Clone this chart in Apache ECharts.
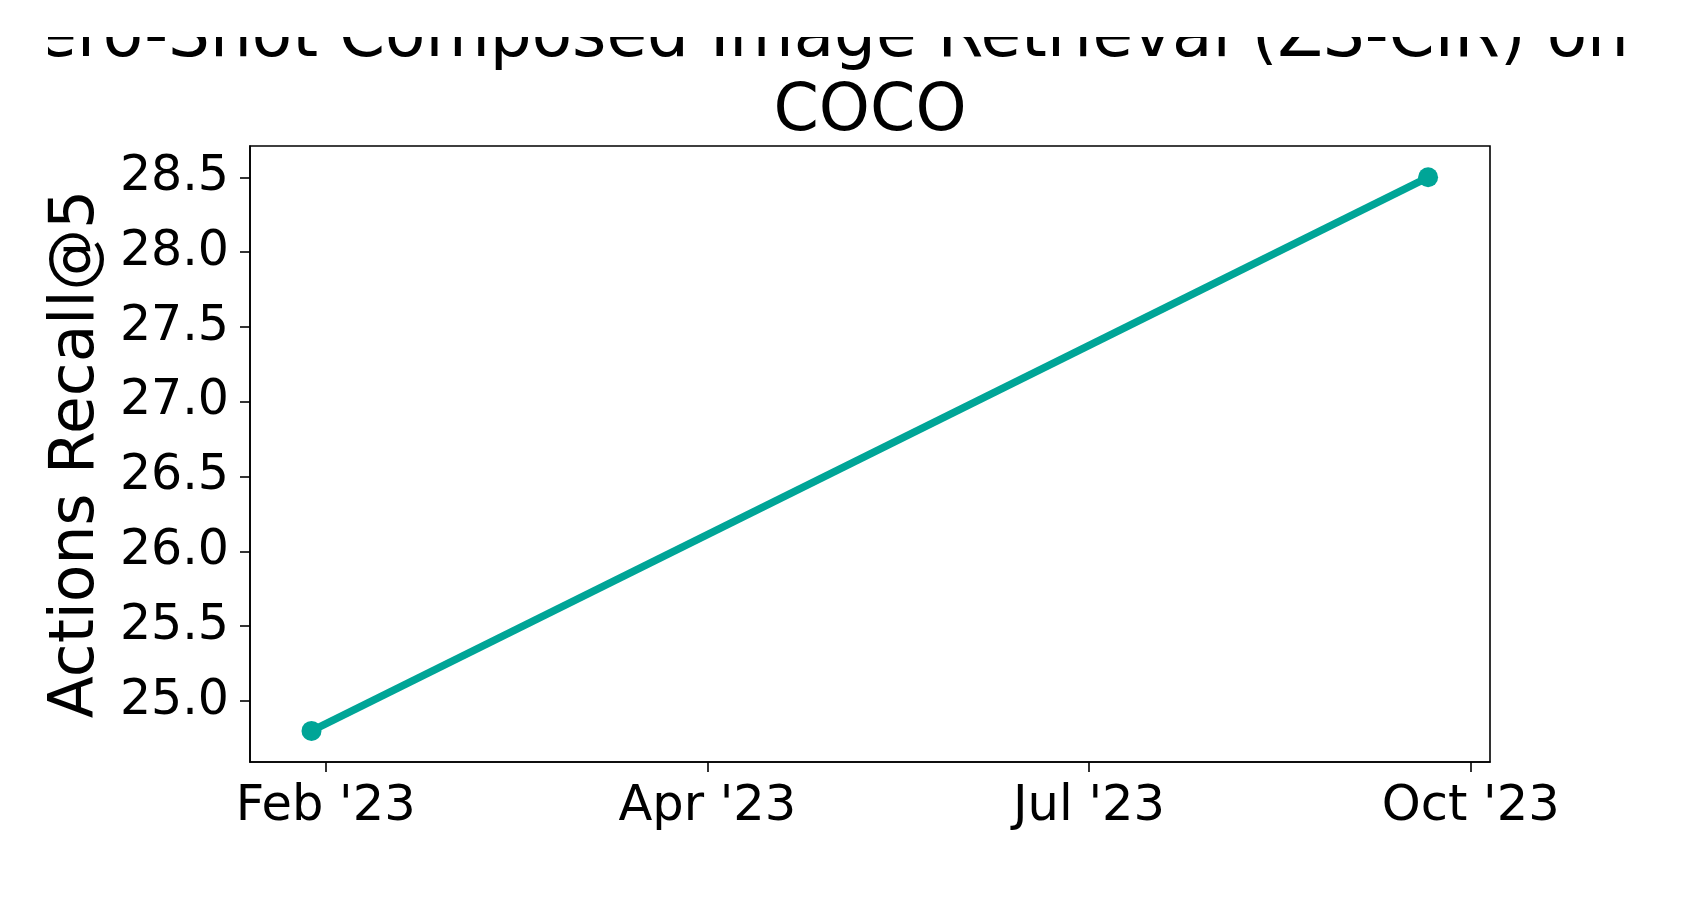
<!DOCTYPE html>
<html>
<head>
<meta charset="utf-8">
<script src="https://cdn.jsdelivr.net/npm/echarts@6/dist/echarts.min.js"></script>
<style>html,body{margin:0;padding:0;background:#fff;}#c{width:1700px;height:900px;}</style>
</head>
<body>
<div id="c"></div>
<script>
// ---- data ----
const titleLines = ['Zero-Shot Composed Image Retrieval (ZS-CIR) on', 'COCO'];
const yAxisName = 'Actions Recall@5';
const dates = ['2023-01-29', '2023-09-22'];
const values = [24.8, 28.5];
// tick positions (evenly spaced in the reference) and their labels
const xTickDates = ['2023-02-01T00:00', '2023-04-22T16:00', '2023-07-12T08:00', '2023-10-01T00:00'];
const xTickLabels = ["Feb '23", "Apr '23", "Jul '23", "Oct '23"];
const yTickValues = [25.0, 25.5, 26.0, 26.5, 27.0, 27.5, 28.0, 28.5];
const yTickLabels = ['25.0', '25.5', '26.0', '26.5', '27.0', '27.5', '28.0', '28.5'];

const FONT = 'DejaVu Sans';
const ts = d => +new Date((d.length === 10 ? d + 'T00:00' : d) + ':00Z');
const xTickTs = xTickDates.map(ts);
const seriesData = dates.map((d, i) => [ts(d), values[i]]);

const chart = echarts.init(document.getElementById('c'), null, {renderer: 'canvas'});
chart.setOption({
  animation: false,
  backgroundColor: '#ffffff',
  textStyle: {fontFamily: FONT},
  grid: {left: 250, right: 210, top: 146, bottom: 138, show: true, borderColor: '#000', borderWidth: 1.6, containLabel: false},
  xAxis: {
    type: 'value',
    min: ts('2023-01-16'),
    max: ts('2023-10-05T02:00'),
    splitLine: {show: false},
    axisLine: {show: true, lineStyle: {color: '#000', width: 1.6}},
    axisTick: {show: true, length: 10, lineStyle: {color: '#000', width: 1.6}, customValues: xTickTs},
    axisLabel: {
      customValues: xTickTs,
      color: '#000', fontSize: 49.5, fontFamily: FONT, margin: 20,
      formatter: function (v) { const i = xTickTs.findIndex(t => Math.abs(t - v) < 1000); return i >= 0 ? xTickLabels[i] : ''; }
    }
  },
  yAxis: {
    type: 'value',
    min: 24.592, max: 28.709,
    name: yAxisName,
    nameLocation: 'middle',
    nameRotate: 90,
    nameGap: 142,
    nameTextStyle: {fontSize: 61.5, color: '#000', fontFamily: FONT},
    splitLine: {show: false},
    axisLine: {show: true, lineStyle: {color: '#000', width: 1.6}},
    axisTick: {show: true, length: 10, lineStyle: {color: '#000', width: 1.6}, customValues: yTickValues},
    axisLabel: {
      customValues: yTickValues,
      color: '#000', fontSize: 49, fontFamily: FONT, margin: 21,
      formatter: function (v) { const i = yTickValues.findIndex(t => Math.abs(t - v) < 1e-6); return i >= 0 ? yTickLabels[i] : ''; }
    }
  },
  series: [{
    type: 'line',
    data: seriesData,
    symbol: 'circle',
    symbolSize: 20,
    lineStyle: {color: '#00a597', width: 7.5},
    itemStyle: {color: '#00a597'},
    clip: false
  }],
  graphic: [
    {type: 'text', z: 10, style: {text: titleLines[0], x: 810, y: 72, font: '66px "DejaVu Sans"', fill: '#000', textAlign: 'center', textVerticalAlign: 'bottom'}},
    {type: 'text', z: 10, style: {text: titleLines[1], x: 870, y: 146, font: '65px "DejaVu Sans"', fill: '#000', textAlign: 'center', textVerticalAlign: 'bottom'}},
    {type: 'rect', z: 20, shape: {x: 0, y: 0, width: 1700, height: 37}, style: {fill: '#fff'}},
    {type: 'rect', z: 20, shape: {x: 0, y: 0, width: 48, height: 85}, style: {fill: '#fff'}}
  ]
});
</script>
</body>
</html>
